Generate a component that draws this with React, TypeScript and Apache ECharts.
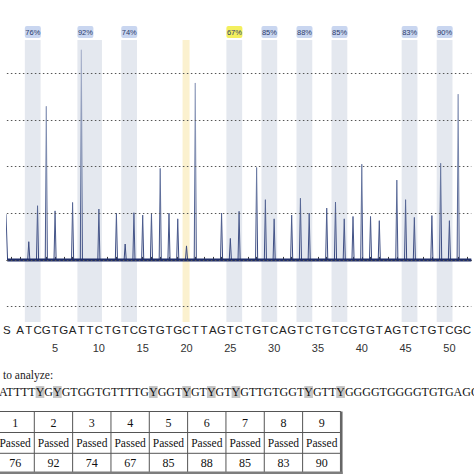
import React, { useEffect, useRef } from "react";
import * as echarts from "echarts";

// Dispensation order (index 0 = substrate "S", then positions 1..52)
const dispensations = [
  "S", "A", "T", "C", "G", "T", "G", "A", "T", "T", "C", "T", "G", "T", "C", "G", "T", "G", "T", "G", "C",
  "T", "T", "A", "G", "T", "C", "T", "G", "T", "C", "A", "G", "T", "C", "T", "G", "T", "C", "G", "T",
  "G", "T", "A", "G", "T", "C", "T", "G", "T", "C", "G", "C",
];

// Peak heights for dispensation positions 1..52 (grid units; baseline = 0)
const peakHeights = [
  0, 0.39, 1.16, 3.29, 1.05, 0, 1.23, 4.5, 0, 1.09,
  0, 1.0, 0.34, 1.01, 0.96, 1.0, 1.96, 1.0, 0.88, 0.3,
  3.79, 0, 0, 1.0, 0.46, 1.04, 0, 1.98, 1.29, 0.88,
  0, 0.96, 1.32, 1.0, 0, 1.11, 1.24, 0.88, 0.93, 2.05,
  0.93, 0.84, 0, 1.71, 1.29, 0.91, 0, 0.95, 2.07, 0.84,
  3.55, 0,
];

// Tail of the substrate signal at the left edge [position, height]
const startTrace = [
  [-0.74, 1.0],
  [-0.6, 0.98],
  [-0.42, 0],
];

// CpG sites: first and last dispensation covered, methylation %
const cpgFirst = [2, 8, 13, 25, 29, 33, 37, 45, 49];
const cpgLast = [3, 10, 14, 26, 30, 34, 38, 46, 50];
const cpgPercent = [76, 92, 74, 67, 85, 88, 85, 83, 90];
const cpgCheck = [false, false, false, true, false, false, false, false, false];
const cpgQuality = ["Passed", "Passed", "Passed", "Passed", "Passed", "Passed", "Passed", "Passed", "Passed"];
const cpgIndex = [1, 2, 3, 4, 5, 6, 7, 8, 9];

// Bisulfite treatment control position
const controlPositions = [20];

// Grid lines (y values)
const gridLevels = [-1, 0, 1, 2, 3, 4];

const sequenceToAnalyze = "ATTTTYGYGTGGTGTTTTGYGGTYGTYGTYGTTGTGGTYGTTYGGGGTGGGGTGTGAGC";

const SANS = "Liberation Sans";
const SERIF = "Liberation Serif";

function buildOption() {
  const peakData: number[][] = startTrace.map((p) => [p[0], p[1]]);
  peakHeights.forEach((h, i) => {
    const pos = i + 1;
    if (h > 0) {
      peakData.push([pos - 0.12, 0], [pos, h], [pos + 0.12, 0]);
    }
  });
  peakData.push([52.5, 0]);

  const bandData: any[] = cpgFirst.map((f, k) => [
    {
      name: cpgPercent[k] + "%",
      xAxis: f - 0.45,
      itemStyle: { color: "#e4e8ef" },
      label: {
        show: true,
        position: [0, -14],
        formatter: "{b}",
        fontSize: 7.5,
        fontFamily: SANS,
        color: "#2c3c6c",
        backgroundColor: cpgCheck[k] ? "#f3ef5e" : "#c9d6f0",
        borderRadius: 2,
        padding: [2, 0.5, 1, 0.5],
        lineHeight: 9,
      },
    },
    { xAxis: cpgLast[k] + 0.35 },
  ]);
  controlPositions.forEach((p) => {
    bandData.push([
      { xAxis: p - 0.45, itemStyle: { color: "#fbf1cf" }, label: { show: false } },
      { xAxis: p + 0.35 },
    ]);
  });

  // Table geometry
  const colW = 38.33;
  const firstRight = 34.3;
  const tTop = 411.5;
  const rowLines = [tTop, 432.5, 453.3];
  const tBottom = 472;
  const tRight = firstRight + (cpgIndex.length - 1) * colW;
  const rowCenters = [422.5, 443.2, 463.3];

  const graphics: any[] = [];
  graphics.push({
    type: "text",
    x: 3,
    y: 375,
    style: { text: "to analyze:", fontSize: 11.5, fontFamily: SERIF, fill: "#222", verticalAlign: "middle" },
  });
  const rich = sequenceToAnalyze
    .split(/(Y)/)
    .filter((s) => s.length > 0)
    .map((s) => (s === "Y" ? "{y|Y}" : "{n|" + s + "}"))
    .join("");
  graphics.push({
    type: "text",
    x: -1,
    y: 392,
    style: {
      text: rich,
      verticalAlign: "middle",
      fontSize: 12,
      fontFamily: SERIF,
      rich: {
        n: { fontSize: 12, fontFamily: SERIF, fill: "#111", color: "#111", lineHeight: 14 },
        y: { fontSize: 12, fontFamily: SERIF, fill: "#111", color: "#111", lineHeight: 14, backgroundColor: "#c6c6c6" },
      },
    },
  });
  rowLines.forEach((y) => {
    graphics.push({ type: "line", shape: { x1: 0, y1: y, x2: tRight, y2: y }, style: { stroke: "#555", lineWidth: 1 } });
  });
  for (let k = 0; k < cpgIndex.length - 1; k++) {
    const x = firstRight + k * colW;
    graphics.push({ type: "line", shape: { x1: x, y1: tTop, x2: x, y2: tBottom }, style: { stroke: "#555", lineWidth: 1 } });
  }
  graphics.push({ type: "rect", shape: { x: tRight - 1, y: tTop, width: 2.6, height: 474 - tTop }, style: { fill: "#666" } });
  graphics.push({ type: "rect", shape: { x: 0, y: tBottom - 0.5, width: tRight + 1.6, height: 3 }, style: { fill: "#7d7d7d" } });
  const rows = [cpgIndex.map(String), cpgQuality, cpgPercent.map(String)];
  rows.forEach((row, r) => {
    row.forEach((txt, k) => {
      const cx = firstRight + (k - 0.5) * colW;
      graphics.push({
        type: "text",
        x: cx,
        y: rowCenters[r],
        style: { text: txt, fontSize: r === 1 ? 11.5 : 12, fontFamily: SERIF, fill: "#111", align: "center", verticalAlign: "middle" },
      });
    });
  });

  return {
    animation: false,
    backgroundColor: "#ffffff",
    grid: { left: 2, top: 40, width: 473.3, height: 282 },
    xAxis: [
      {
        type: "category",
        gridIndex: 0,
        data: dispensations,
        boundaryGap: true,
        axisLine: { lineStyle: { color: "#3a3a3a", width: 1 } },
        axisTick: { show: true, inside: true, length: 3, alignWithLabel: true, interval: 0, lineStyle: { color: "#3a3a3a" } },
        axisLabel: {
          interval: 0,
          margin: 2,
          fontSize: 11.5,
          fontFamily: SANS,
          color: "#222",
          formatter: (v: string, i: number) => (i === 0 ? "{s|" + v + "}" : v),
          rich: { s: { fontSize: 11.5, fontFamily: SANS, color: "#222", padding: [0, 9, 0, 0] } },
        },
        splitLine: { show: false },
      },
      {
        type: "category",
        gridIndex: 0,
        position: "bottom",
        offset: 18,
        data: dispensations.map((_, i) => String(i)),
        boundaryGap: true,
        axisLine: { show: false },
        axisTick: { show: false },
        axisLabel: {
          interval: 0,
          margin: 2,
          fontSize: 11,
          fontFamily: SANS,
          color: "#333",
          formatter: (v: string, i: number) => (i > 0 && i % 5 === 0 ? v : ""),
        },
        splitLine: { show: false },
      },
      { type: "value", gridIndex: 0, min: -0.5, max: 52.5, show: false },
    ],
    yAxis: { type: "value", min: -1.33, max: 4.71, show: false },
    series: [
      {
        name: "bands",
        type: "line",
        xAxisIndex: 2,
        z: 1,
        data: [[-0.5, 0]],
        symbol: "none",
        lineStyle: { opacity: 0 },
        silent: true,
        markArea: { silent: true, data: bandData },
      },
      {
        name: "grid",
        type: "line",
        xAxisIndex: 2,
        z: 2,
        data: [[-0.5, 0]],
        symbol: "none",
        lineStyle: { opacity: 0 },
        silent: true,
        markLine: {
          silent: true,
          symbol: ["none", "none"],
          label: { show: false },
          lineStyle: { type: [1.5, 2.5], color: "#555", width: 1 },
          data: gridLevels.map((v) => ({ yAxis: v })),
        },
      },
      {
        name: "peaks",
        type: "line",
        xAxisIndex: 2,
        z: 3,
        clip: false,
        symbol: "none",
        data: peakData,
        lineStyle: {
          width: 1,
          color: new echarts.graphic.LinearGradient(0, 0, 0, 1, [
            { offset: 0, color: "#aeb7cf" },
            { offset: 0.6, color: "#6a7aa3" },
            { offset: 1, color: "#34447c" },
          ]),
        },
      },
      {
        name: "baseline",
        type: "line",
        xAxisIndex: 2,
        z: 4,
        symbol: "none",
        data: [[-0.45, 0], [52.5, 0]],
        lineStyle: { width: 3, color: "#1f2d68" },
      },
    ],
    graphic: graphics,
  };
}

export default function App() {
  const ref = useRef<HTMLDivElement>(null);
  useEffect(() => {
    const el = ref.current;
    if (!el) return;
    const chart = echarts.init(el, null, { renderer: "svg" });
    chart.setOption(buildOption() as any);
    return () => chart.dispose();
  }, []);
  return (
    <div
      ref={ref}
      style={{ position: "fixed", left: 0, top: 0, width: 474, height: 474, background: "#fff", overflow: "hidden" }}
    />
  );
}
